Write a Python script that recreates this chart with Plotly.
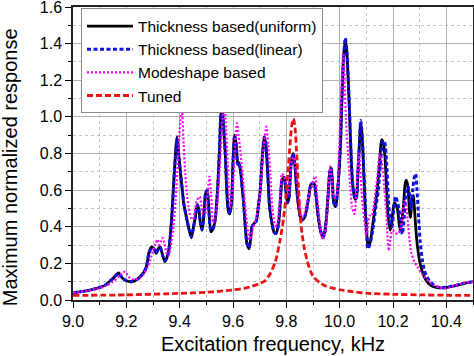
import plotly.graph_objects as go

# ---- data ----
uniform_x = [9.00, 9.05, 9.09, 9.12, 9.14, 9.155, 9.171, 9.185, 9.20, 9.221, 9.24, 9.252, 9.265, 9.275, 9.285,
             9.295, 9.303, 9.312, 9.32, 9.327, 9.335, 9.344, 9.352, 9.36, 9.371, 9.38, 9.39, 9.396, 9.402, 9.41,
             9.415, 9.427, 9.436, 9.444, 9.452, 9.459, 9.466, 9.471, 9.478, 9.484, 9.49, 9.497, 9.503, 9.508, 9.517,
             9.525, 9.533, 9.542, 9.55, 9.556, 9.56, 9.566, 9.571, 9.576, 9.582, 9.587, 9.594, 9.60, 9.606, 9.612,
             9.618, 9.622, 9.628, 9.634, 9.64, 9.646, 9.652, 9.66, 9.666, 9.671, 9.68, 9.687, 9.694, 9.702, 9.71,
             9.717, 9.723, 9.73, 9.737, 9.746, 9.754, 9.762, 9.771, 9.778, 9.784, 9.792, 9.798, 9.804, 9.81, 9.817,
             9.825, 9.832, 9.838, 9.846, 9.853, 9.859, 9.866, 9.874, 9.884, 9.892, 9.90, 9.906, 9.912, 9.92, 9.928,
             9.937, 9.944, 9.95, 9.957, 9.963, 9.968, 9.972, 9.978, 9.985, 9.991, 9.997, 10.003, 10.009, 10.015,
             10.021, 10.027, 10.033, 10.038, 10.043, 10.048, 10.053, 10.058, 10.063, 10.068, 10.074, 10.079, 10.084,
             10.09, 10.096, 10.102, 10.107, 10.115, 10.123, 10.132, 10.142, 10.15, 10.157, 10.163, 10.17, 10.176,
             10.182, 10.19, 10.197, 10.205, 10.211, 10.217, 10.222, 10.227, 10.234, 10.24, 10.246, 10.25, 10.256,
             10.262, 10.266, 10.272, 10.276, 10.28, 10.286, 10.292, 10.30, 10.308, 10.316, 10.325, 10.335, 10.348,
             10.365, 10.38, 10.40, 10.42, 10.44, 10.467, 10.50]
uniform_y = [0.040, 0.050, 0.064, 0.080, 0.105, 0.125, 0.148, 0.120, 0.105, 0.100, 0.112, 0.127, 0.150, 0.180, 0.260,
             0.290, 0.280, 0.255, 0.280, 0.290, 0.250, 0.210, 0.230, 0.280, 0.470, 0.700, 0.890, 0.800, 0.710, 0.600,
             0.530, 0.440, 0.380, 0.340, 0.400, 0.455, 0.520, 0.500, 0.420, 0.380, 0.450, 0.580, 0.600, 0.530, 0.373,
             0.390, 0.437, 0.600, 0.840, 1.040, 1.030, 0.920, 0.800, 0.620, 0.490, 0.470, 0.520, 0.750, 0.900, 0.850,
             0.740, 0.750, 0.710, 0.620, 0.530, 0.400, 0.310, 0.280, 0.330, 0.400, 0.420, 0.430, 0.500, 0.600, 0.780,
             0.890, 0.850, 0.700, 0.510, 0.420, 0.370, 0.365, 0.420, 0.550, 0.656, 0.670, 0.600, 0.530, 0.560, 0.730,
             0.800, 0.740, 0.620, 0.510, 0.450, 0.437, 0.445, 0.480, 0.565, 0.630, 0.640, 0.630, 0.560, 0.450, 0.380,
             0.340, 0.370, 0.440, 0.580, 0.700, 0.720, 0.660, 0.530, 0.510, 0.580, 0.690, 0.850, 1.130, 1.330,
             1.420, 1.350, 1.170, 0.980, 0.780, 0.640, 0.580, 0.550, 0.560, 0.680, 0.850, 0.970, 0.900,
             0.710, 0.500, 0.350, 0.290, 0.320, 0.400, 0.500, 0.620, 0.760, 0.875, 0.860, 0.780, 0.600,
             0.450, 0.380, 0.450, 0.530, 0.520, 0.495, 0.430, 0.380, 0.440, 0.530, 0.640, 0.655, 0.620,
             0.480, 0.450, 0.565, 0.570, 0.510, 0.380, 0.290, 0.210, 0.165, 0.130, 0.105, 0.088, 0.075,
             0.068, 0.066, 0.068, 0.074, 0.080, 0.090, 0.100]

linear_x = [9.00, 9.05, 9.09, 9.12, 9.14, 9.155, 9.171, 9.185, 9.20, 9.221, 9.24, 9.252, 9.265, 9.275, 9.285,
            9.295, 9.303, 9.312, 9.32, 9.327, 9.335, 9.344, 9.352, 9.36, 9.371, 9.38, 9.39, 9.396, 9.402, 9.41,
            9.415, 9.427, 9.436, 9.444, 9.452, 9.459, 9.466, 9.471, 9.478, 9.484, 9.49, 9.497, 9.503, 9.508, 9.517,
            9.525, 9.533, 9.542, 9.55, 9.556, 9.56, 9.566, 9.571, 9.576, 9.582, 9.587, 9.594, 9.60, 9.606, 9.612,
            9.618, 9.622, 9.628, 9.634, 9.64, 9.646, 9.652, 9.66, 9.666, 9.671, 9.68, 9.687, 9.694, 9.702, 9.71,
            9.717, 9.723, 9.73, 9.737, 9.746, 9.754, 9.762, 9.771, 9.778, 9.784, 9.792, 9.798, 9.804, 9.81, 9.817,
            9.825, 9.832, 9.838, 9.846, 9.853, 9.859, 9.866, 9.874, 9.884, 9.892, 9.90, 9.906, 9.912, 9.92, 9.928,
            9.937, 9.944, 9.95, 9.957, 9.963, 9.968, 9.972, 9.978, 9.985, 9.991, 9.997, 10.003, 10.009, 10.015,
            10.021, 10.027, 10.033, 10.038, 10.043, 10.048, 10.053, 10.058, 10.063, 10.068, 10.074, 10.079, 10.084,
            10.09, 10.096, 10.102, 10.105, 10.113, 10.125, 10.135, 10.145, 10.155, 10.163, 10.169, 10.176, 10.183,
            10.19, 10.196, 10.203, 10.21, 10.216, 10.222, 10.228, 10.235, 10.242, 10.25, 10.256, 10.262, 10.268,
            10.274, 10.28, 10.285, 10.29, 10.296, 10.302, 10.31, 10.318, 10.328, 10.34, 10.355, 10.37, 10.385,
            10.40, 10.42, 10.44, 10.467, 10.50]
linear_y = [0.040, 0.050, 0.064, 0.080, 0.105, 0.125, 0.145, 0.120, 0.105, 0.100, 0.112, 0.127, 0.150, 0.180, 0.255,
            0.285, 0.280, 0.255, 0.280, 0.285, 0.250, 0.215, 0.230, 0.280, 0.460, 0.690, 0.880, 0.800, 0.710, 0.600,
            0.530, 0.440, 0.380, 0.345, 0.400, 0.455, 0.520, 0.500, 0.420, 0.385, 0.450, 0.580, 0.600, 0.530, 0.380,
            0.390, 0.437, 0.600, 0.840, 1.040, 1.030, 0.920, 0.800, 0.620, 0.490, 0.470, 0.520, 0.750, 0.900, 0.850,
            0.740, 0.750, 0.710, 0.620, 0.530, 0.400, 0.310, 0.285, 0.330, 0.400, 0.420, 0.430, 0.500, 0.600, 0.780,
            0.890, 0.850, 0.700, 0.510, 0.420, 0.370, 0.365, 0.420, 0.550, 0.656, 0.670, 0.600, 0.530, 0.560, 0.730,
            0.800, 0.740, 0.620, 0.510, 0.450, 0.437, 0.445, 0.480, 0.565, 0.630, 0.640, 0.630, 0.560, 0.450, 0.380,
            0.340, 0.370, 0.440, 0.580, 0.700, 0.720, 0.660, 0.530, 0.510, 0.580, 0.690, 0.850, 1.130, 1.330,
            1.430, 1.360, 1.180, 0.990, 0.790, 0.650, 0.580, 0.550, 0.560, 0.680, 0.850, 0.980, 0.910,
            0.720, 0.510, 0.360, 0.280, 0.300, 0.390, 0.500, 0.600, 0.780, 0.870, 0.860, 0.750, 0.550,
            0.420, 0.400, 0.500, 0.565, 0.540, 0.500, 0.420, 0.360, 0.450, 0.600, 0.620, 0.580, 0.500,
            0.600, 0.670, 0.690, 0.600, 0.450, 0.320, 0.220, 0.160, 0.125, 0.100, 0.080, 0.070, 0.068,
            0.070, 0.075, 0.082, 0.092, 0.100]

modeshape_x = [9.00, 9.05, 9.09, 9.12, 9.15, 9.17, 9.183, 9.196, 9.205, 9.215, 9.23, 9.25, 9.265, 9.28, 9.29,
               9.30, 9.31, 9.317, 9.324, 9.33, 9.336, 9.343, 9.35, 9.357, 9.365, 9.375, 9.385, 9.395, 9.403, 9.409,
               9.415, 9.421, 9.427, 9.433, 9.442, 9.45, 9.458, 9.465, 9.475, 9.481, 9.487, 9.494, 9.50, 9.506, 9.512,
               9.518, 9.525, 9.532, 9.54, 9.547, 9.555, 9.562, 9.567, 9.572, 9.58, 9.585, 9.59, 9.595, 9.60, 9.607,
               9.615, 9.621, 9.627, 9.633, 9.64, 9.646, 9.654, 9.662, 9.668, 9.675, 9.685, 9.696, 9.705, 9.715, 9.725,
               9.732, 9.74, 9.746, 9.752, 9.758, 9.764, 9.77, 9.777, 9.784, 9.79, 9.796, 9.802, 9.808, 9.815, 9.821,
               9.828, 9.834, 9.84, 9.846, 9.852, 9.86, 9.868, 9.88, 9.89, 9.896, 9.903, 9.909, 9.915, 9.921, 9.927,
               9.932, 9.937, 9.944, 9.952, 9.958, 9.965, 9.97, 9.977, 9.984, 9.99, 9.996, 10.002, 10.008, 10.013,
               10.018, 10.024, 10.033, 10.04, 10.046, 10.055, 10.061, 10.067, 10.072, 10.077, 10.082, 10.087, 10.094,
               10.10, 10.106, 10.112, 10.12, 10.128, 10.135, 10.142, 10.15, 10.156, 10.162, 10.168, 10.175, 10.18,
               10.184, 10.19, 10.198, 10.207, 10.217, 10.226, 10.235, 10.242, 10.249, 10.255, 10.262, 10.268, 10.28,
               10.292, 10.305, 10.317, 10.335, 10.355, 10.375, 10.392, 10.41, 10.43, 10.46, 10.50]
modeshape_y = [0.040, 0.050, 0.062, 0.075, 0.100, 0.125, 0.145, 0.155, 0.135, 0.118, 0.112, 0.120, 0.140, 0.180, 0.220,
               0.270, 0.310, 0.330, 0.300, 0.320, 0.340, 0.310, 0.260, 0.240, 0.280, 0.380, 0.550, 0.800, 0.980, 1.030,
               0.850, 0.690, 0.580, 0.510, 0.450, 0.440, 0.500, 0.546, 0.565, 0.520, 0.470, 0.470, 0.510, 0.600, 0.674,
               0.580, 0.420, 0.450, 0.510, 0.650, 0.840, 1.020, 1.110, 1.000, 0.750, 0.600, 0.510, 0.550, 0.620, 0.800,
               0.966, 0.900, 0.820, 0.730, 0.620, 0.510, 0.400, 0.330, 0.350, 0.390, 0.440, 0.510, 0.650, 0.840, 0.947,
               0.850, 0.690, 0.530, 0.450, 0.410, 0.400, 0.450, 0.580, 0.690, 0.680, 0.656, 0.620, 0.580, 0.680, 0.765,
               0.780, 0.740, 0.656, 0.560, 0.474, 0.450, 0.470, 0.546, 0.600, 0.620, 0.660, 0.675, 0.580, 0.480, 0.400,
               0.350, 0.330, 0.360, 0.455, 0.600, 0.730, 0.660, 0.565, 0.560, 0.580, 0.750, 0.980, 1.200, 1.350,
               1.220, 0.980, 0.765, 0.620, 0.510, 0.470, 0.550, 0.710, 0.800, 0.720, 0.600, 0.510, 0.420,
               0.350, 0.400, 0.460, 0.460, 0.520, 0.600, 0.680, 0.800, 0.760, 0.710, 0.600, 0.470, 0.330,
               0.270, 0.330, 0.380, 0.370, 0.360, 0.380, 0.450, 0.540, 0.520, 0.440, 0.330, 0.260, 0.210,
               0.180, 0.150, 0.128, 0.100, 0.080, 0.068, 0.063, 0.068, 0.078, 0.090, 0.100]

tuned_x = [9.00, 9.20, 9.40, 9.50, 9.60, 9.65, 9.70, 9.72, 9.74, 9.759, 9.777, 9.79, 9.798, 9.806, 9.814,
           9.82, 9.826, 9.832, 9.838, 9.846, 9.852, 9.859, 9.868, 9.877, 9.89, 9.90, 9.925, 9.95, 10.00, 10.05,
           10.10, 10.20, 10.30, 10.40, 10.50]
tuned_y = [0.025, 0.028, 0.036, 0.042, 0.055, 0.066, 0.090, 0.105, 0.145, 0.210, 0.330, 0.450, 0.560, 0.700, 0.850,
           0.950, 0.990, 0.950, 0.820, 0.600, 0.460, 0.360, 0.280, 0.220, 0.160, 0.130, 0.095, 0.075, 0.056, 0.045,
           0.037, 0.031, 0.028, 0.026, 0.025]

x_ticks = [9.0, 9.2, 9.4, 9.6, 9.8, 10.0, 10.2, 10.4]
y_ticks = [0.0, 0.2, 0.4, 0.6, 0.8, 1.0, 1.2, 1.4, 1.6]

FONT = "Liberation Sans, Arial, sans-serif"

fig = go.Figure()
fig.add_trace(go.Scatter(x=uniform_x, y=uniform_y, mode="lines", name="Thickness based(uniform)",
                         line=dict(color="black", width=2.8, shape="spline", smoothing=0.7)))
fig.add_trace(go.Scatter(x=linear_x, y=linear_y, mode="lines", name="Thickness based(linear)",
                         line=dict(color="#1010e0", width=3, dash="4px,2.5px", shape="spline", smoothing=0.7)))
fig.add_trace(go.Scatter(x=modeshape_x, y=modeshape_y, mode="lines", name="Modeshape based",
                         line=dict(color="#ff00ff", width=2.2, dash="2px,2px", shape="spline", smoothing=0.7)))
fig.add_trace(go.Scatter(x=tuned_x, y=tuned_y, mode="lines", name="Tuned",
                         line=dict(color="#ee1111", width=2.8, dash="6px,3px", shape="spline", smoothing=0.7)))

axis_common = dict(
    showline=True, linecolor="#222222", linewidth=1.5, mirror=True,
    ticks="outside", ticklen=6, tickwidth=1.2, tickcolor="black",
    showgrid=True, gridcolor="#b0b0b0", gridwidth=1,
    zeroline=False, tickformat=".1f", automargin=False,
    ticklabeloverflow="allow",
    tickfont=dict(family=FONT, size=16, color="black"),
)

fig.update_layout(
    template="none",
    width=474, height=356,
    margin=dict(l=73, r=1, t=7, b=56, pad=0, autoexpand=False),
    paper_bgcolor="white", plot_bgcolor="white",
    font=dict(family=FONT, color="black"),
    showlegend=True,
    legend=dict(x=0.02, y=0.995, xanchor="left", yanchor="top",
                bgcolor="white", bordercolor="#888888", borderwidth=1,
                font=dict(family=FONT, size=15.5, color="black"),
                itemwidth=46, tracegroupgap=0),
    xaxis=dict(range=[9.0, 10.5], tickvals=x_ticks,
               minor=dict(dtick=0.1, ticks="outside", ticklen=3, tickcolor="black",
                          showgrid=True, gridcolor="#c4c4c4", griddash="dot"),
               title=dict(text="Excitation frequency, kHz", font=dict(family=FONT, size=20, color="black"),
                          standoff=8),
               **axis_common),
    yaxis=dict(range=[0, 1.6], tickvals=y_ticks,
               minor=dict(dtick=0.1, ticks="outside", ticklen=3, tickcolor="black",
                          showgrid=True, gridcolor="#c4c4c4", griddash="dot"),
               **axis_common),
    annotations=[dict(text="Maximum normalized response", textangle=-90,
                      xref="paper", yref="paper", x=-0.1575, y=0.453,
                      xanchor="center", yanchor="middle", showarrow=False,
                      font=dict(family=FONT, size=20, color="black"))],
)

fig.write_html("out.html", config={"displayModeBar": False},
               post_script="document.body.style.margin='0';document.body.style.overflow='hidden';")
